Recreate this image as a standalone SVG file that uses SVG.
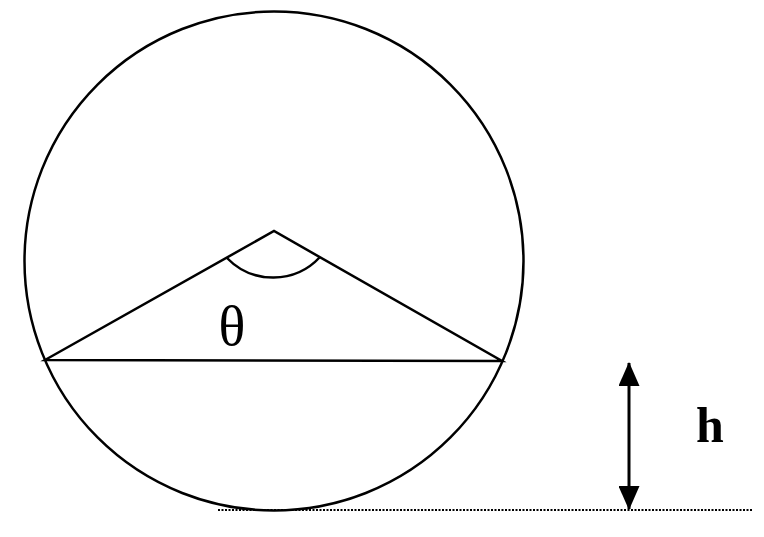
<svg xmlns="http://www.w3.org/2000/svg" width="764" height="537" viewBox="0 0 764 537">
<style>
.ln{fill:none;stroke:#000;stroke-width:2.5}
.lbl{font-family:"Liberation Serif",serif;fill:#000}
</style>
<defs>
<marker id="ah" viewBox="0 0 24 21" refX="23" refY="10.5" markerWidth="24" markerHeight="21" markerUnits="userSpaceOnUse" orient="auto-start-reverse">
<path d="M0,0 L24,10.5 L0,21 Z" fill="#000"/>
</marker>
</defs>
<rect width="764" height="537" fill="#fff"/>
<g id="circle"><circle class="ln" cx="274" cy="261" r="249.5"/></g>
<g id="triangle">
<path class="ln" d="M45,360 L274,231 L502,361 Z"/>
</g>
<g id="angle">
<path class="ln" d="M227,258 A64,64 0 0 0 320,257"/>
</g>
<g id="ground"><line x1="218" y1="510" x2="752" y2="510" stroke="#000" stroke-width="2" stroke-dasharray="2,1.5"/></g>
<g id="connectors">
<line x1="629" y1="363" x2="629" y2="509" stroke="#000" stroke-width="3" marker-start="url(#ah)" marker-end="url(#ah)"/>
</g>
<g id="labels">
<text class="lbl" x="232" y="345" font-size="56" text-anchor="middle">θ</text>
<text class="lbl" x="710" y="442" font-size="50" font-weight="bold" text-anchor="middle">h</text>
</g>
</svg>
